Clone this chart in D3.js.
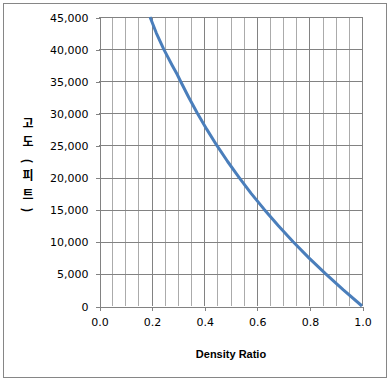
<!DOCTYPE html>
<html>
<head>
<meta charset="utf-8">
<script src="https://cdn.jsdelivr.net/npm/d3@7"></script>
<style>
body { margin: 0; background: #fff; }
svg text { font-family: "DejaVu Sans", Verdana, sans-serif; }
</style>
</head>
<body>
<svg id="chart" width="390" height="380"></svg>
<script>
// altitude in feet and the density ratio
var altitudes = [0, 2500, 5000, 7500, 10000, 12500, 15000, 17500, 20000, 22500, 25000,
    27500, 30000, 32500, 35000, 36089, 37500, 40000, 42500, 45000];
var densityRatios = [1.0, 0.929, 0.862, 0.798, 0.738, 0.682, 0.629, 0.579, 0.533, 0.489, 0.448,
    0.410, 0.374, 0.341, 0.310, 0.297, 0.278, 0.246, 0.218, 0.194];
var yTicks = [0, 5000, 10000, 15000, 20000, 25000, 30000, 35000, 40000, 45000];
var xTicks = [0, 0.2, 0.4, 0.6, 0.8, 1.0];
var xMinor = d3.range(0, 21).map(function(i) { return i * 0.05; });
var yTitle = ["고", "도", "(", "피", "트", ")"];

var svg = d3.select("#chart");

// outer frame of the chart area
svg.append("rect")
    .attr("x", 3.5).attr("y", 3.5)
    .attr("width", 383).attr("height", 374)
    .attr("fill", "#fff")
    .attr("stroke", "#868686");

var x = d3.scaleLinear().domain([0, 1]).range([99, 362]);
var y = d3.scaleLinear().domain([0, 45000]).range([306, 17]);

var grid = svg.append("g").attr("shape-rendering", "crispEdges");

// minor vertical gridlines every 0.05
grid.selectAll(".minor")
    .data(xMinor.filter(function(d, i) { return i % 4 != 0; }))
    .enter().append("line")
    .attr("x1", function(d) { return Math.round(x(d)) + 0.5; })
    .attr("x2", function(d) { return Math.round(x(d)) + 0.5; })
    .attr("y1", y(45000)).attr("y2", y(0))
    .attr("stroke", "#ababab");

// major vertical gridlines
grid.selectAll(".major")
    .data(xTicks.slice(1))
    .enter().append("line")
    .attr("x1", function(d) { return Math.round(x(d)) + 0.5; })
    .attr("x2", function(d) { return Math.round(x(d)) + 0.5; })
    .attr("y1", y(45000)).attr("y2", y(0))
    .attr("stroke", "#828282");

// horizontal gridlines
grid.selectAll(".hgrid")
    .data(yTicks.slice(1))
    .enter().append("line")
    .attr("x1", x(0)).attr("x2", x(1))
    .attr("y1", function(d) { return Math.round(y(d)) + 0.5; })
    .attr("y2", function(d) { return Math.round(y(d)) + 0.5; })
    .attr("stroke", "#828282");

var yAxis = svg.append("g")
    .attr("transform", "translate(" + (Math.round(x(0)) + 0.5) + ",0.5)")
    .call(d3.axisLeft(y).tickValues(yTicks).tickSize(4).tickPadding(7)
        .tickFormat(d3.format(",")));

var xAxis = svg.append("g")
    .attr("transform", "translate(0.5," + (Math.round(y(0)) + 0.5) + ")")
    .call(d3.axisBottom(x).tickValues(xTicks).tickSize(4).tickPadding(8)
        .tickFormat(d3.format(".1f")));

[yAxis, xAxis].forEach(function(ax) {
    ax.select(".domain").attr("stroke", "#828282").attr("shape-rendering", "crispEdges");
    ax.selectAll(".tick line").attr("stroke", "#828282").attr("shape-rendering", "crispEdges");
    ax.selectAll("text").attr("fill", "#000")
        .style("font-family", "'DejaVu Sans', Verdana, sans-serif")
        .style("font-size", "11px");
});

// the curve
var line = d3.line()
    .x(function(d) { return x(d[1]); })
    .y(function(d) { return y(d[0]); });

svg.append("path")
    .datum(d3.zip(altitudes, densityRatios))
    .attr("d", line)
    .attr("fill", "none")
    .attr("stroke", "#4a7ebb")
    .attr("stroke-width", 3)
    .attr("stroke-linejoin", "round");

svg.append("text")
    .attr("x", 231).attr("y", 358)
    .attr("text-anchor", "middle")
    .style("font-family", "'Liberation Sans', Arial, sans-serif")
    .style("font-weight", "bold")
    .style("font-size", "11px")
    .text("Density Ratio");

// vertical korean title, parens turned sideways
var titleY = [122, 140, 161, 174, 193, 210];
svg.selectAll(".ytitle")
    .data(yTitle)
    .enter().append("text")
    .attr("text-anchor", "middle")
    .attr("dominant-baseline", "central")
    .attr("transform", function(d, i) {
        var t = "translate(28," + titleY[i] + ")";
        return (d == "(" || d == ")") ? t + " rotate(90)" : t;
    })
    .style("font-family", "'Noto Sans CJK KR', sans-serif")
    .style("font-weight", "bold")
    .style("font-size", "12px")
    .text(function(d) { return d; });
</script>
</body>
</html>
